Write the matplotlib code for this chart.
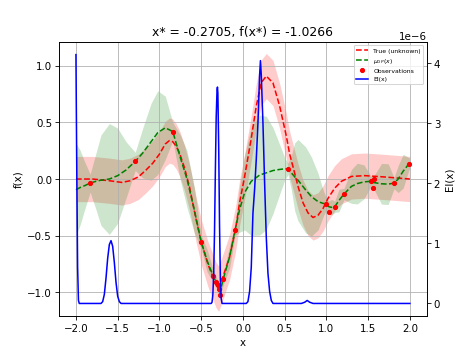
import matplotlib
matplotlib.use("Agg")
import matplotlib.pyplot as plt

# true function
true_x = [-2.0, -1.8, -1.6, -1.45, -1.35, -1.25, -1.16, -1.08, -1.0, -0.93, -0.88, -0.84,
          -0.8, -0.76, -0.7, -0.64, -0.56, -0.5, -0.42, -0.36, -0.32, -0.29, -0.24, -0.16,
          -0.09, -0.04, 0.02, 0.1, 0.16, 0.22, 0.28, 0.36, 0.44, 0.52, 0.56, 0.61, 0.66,
          0.72, 0.78, 0.84, 0.9, 0.96, 1.02, 1.1, 1.18, 1.3, 1.46, 1.7, 2.0]
true_y = [0.0, 0.0, -0.015, -0.03, -0.015, 0.02, 0.08, 0.14, 0.22, 0.31, 0.34, 0.33,
          0.29, 0.23, 0.1, -0.07, -0.36, -0.555, -0.75, -0.865, -0.94, -0.97, -0.865, -0.69,
          -0.45, -0.21, 0.02, 0.36, 0.645, 0.853, 0.91, 0.85, 0.645, 0.38, 0.22, 0.08, -0.065,
          -0.21, -0.3, -0.34, -0.32, -0.26, -0.17, -0.08, -0.02, 0.023, 0.03, 0.018, 0.0]
true_band = 0.2

# GP posterior mean and 2-sigma half width
gp_x = [-2.0, -1.95, -1.9, -1.83, -1.76, -1.7, -1.6, -1.5, -1.4, -1.29, -1.2, -1.1,
        -1.02, -0.93, -0.84, -0.75, -0.67, -0.58, -0.5, -0.43, -0.36, -0.32, -0.3, -0.275,
        -0.234, -0.16, -0.094, -0.04, 0.02, 0.1, 0.2, 0.28, 0.36, 0.44, 0.5, 0.54, 0.58,
        0.62, 0.66, 0.75, 0.82, 0.9, 0.96, 1.0, 1.03, 1.06, 1.1, 1.15, 1.21, 1.3, 1.37,
        1.45, 1.53, 1.56, 1.6, 1.66, 1.74, 1.81, 1.86, 1.92, 1.99, 2.0]
gp_mu = [-0.095, -0.075, -0.06, -0.036, -0.02, -0.01, 0.0, 0.03, 0.08, 0.156, 0.23, 0.33,
         0.41, 0.453, 0.42, 0.19, 0.0, -0.28, -0.555, -0.72, -0.85, -0.91, -0.955, -1.0,
         -0.88, -0.69, -0.45, -0.27, -0.12, -0.02, 0.035, 0.055, 0.075, 0.085, 0.09, 0.09, 0.055,
         0.02, -0.01, -0.095, -0.155, -0.2, -0.215, -0.22, -0.245, -0.25, -0.245, -0.19, -0.133,
         -0.065, -0.04, -0.025, -0.02, -0.03, -0.035, -0.042, -0.045, -0.036, 0.0, 0.07, 0.136, 0.14]
gp_h = [0.41, 0.33, 0.22, 0.08, 0.25, 0.4, 0.49, 0.42, 0.25, 0.08, 0.22, 0.34,
        0.37, 0.28, 0.08, 0.2, 0.25, 0.2, 0.06, 0.1, 0.06, 0.05, 0.05, 0.05,
        0.05, 0.1, 0.05, 0.2, 0.33, 0.48, 0.53, 0.5, 0.38, 0.22, 0.1, 0.05, 0.15,
        0.3, 0.36, 0.38, 0.35, 0.25, 0.12, 0.05, 0.05, 0.07, 0.05, 0.1, 0.05, 0.15, 0.18,
        0.15, 0.05, 0.05, 0.1, 0.18, 0.18, 0.05, 0.12, 0.15, 0.05, 0.06]

# observations
obs_x = [-1.83, -1.29, -0.84, -0.5, -0.36, -0.32, -0.3, -0.29, -0.2705, -0.234, -0.094,
         0.54, 1.0, 1.03, 1.1, 1.21, 1.53, 1.56, 1.57, 1.81, 1.99]
obs_y = [-0.036, 0.156, 0.42, -0.555, -0.855, -0.91, -0.94, -0.97, -1.0266, -0.88, -0.45,
         0.09, -0.22, -0.29, -0.25, -0.133, -0.015, -0.075, 0.0, -0.036, 0.136]

# expected improvement (units of 1e-6)
ei_x = [-2.0, -1.99, -1.98, -1.97, -1.96, -1.7, -1.68, -1.66, -1.64, -1.62, -1.6, -1.58,
        -1.56, -1.54, -1.52, -1.5, -1.48, -1.46, -0.38, -0.37, -0.36, -0.35, -0.34, -0.33,
        -0.32, -0.31, -0.305, -0.3, -0.29, -0.28, -0.27, -0.26, -0.25, 0.04, 0.06, 0.08,
        0.1, 0.12, 0.14, 0.16, 0.18, 0.2, 0.21, 0.22, 0.24, 0.26, 0.28, 0.3, 0.32, 0.34,
        0.36, 0.7, 0.74, 0.77, 0.8, 0.84, 2.0]
ei_v = [4.14, 2.2, 0.6, 0.05, 0.0, 0.0, 0.03, 0.15, 0.42, 0.75, 0.98, 1.045,
        0.95, 0.68, 0.35, 0.12, 0.03, 0.0, 0.0, 0.02, 0.15, 0.5, 1.2, 2.2,
        3.1, 3.55, 3.6, 3.5, 2.6, 1.3, 0.4, 0.08, 0.0, 0.0, 0.03, 0.2,
        0.6, 1.5, 1.9, 2.4, 3.0, 3.8, 4.04, 3.8, 3.0, 2.0, 1.1, 0.5, 0.2, 0.05,
        0.0, 0.0, 0.02, 0.05, 0.02, 0.0, 0.0]
ei_v = [v * 1e-6 for v in ei_v]

x_best, f_best = -0.2705, -1.0266

fig = plt.figure(figsize=(6.4, 4.8))
ax = fig.add_subplot(111)

lo_t = [y - true_band for y in true_y]
hi_t = [y + true_band for y in true_y]
ax.fill_between(true_x, lo_t, hi_t, color="red", alpha=0.2, linewidth=0)
lo_g = [m - h for m, h in zip(gp_mu, gp_h)]
hi_g = [m + h for m, h in zip(gp_mu, gp_h)]
ax.fill_between(gp_x, lo_g, hi_g, color="green", alpha=0.2, linewidth=0)

l1, = ax.plot(true_x, true_y, "r--", lw=1.5, label="True (unknown)")
l2, = ax.plot(gp_x, gp_mu, "g--", lw=1.5, label=r"$\mu_{GP}(x)$")
l3, = ax.plot(obs_x, obs_y, "ro", ms=4, label="Observations")
ax.set_xlabel("x")
ax.set_ylabel("f(x)")
ax.set_ylim(-1.21, 1.21)
ax.grid(True)
ax.set_title(f"x* = {x_best:.4f}, f(x*) = {f_best:.4f}")

ax2 = ax.twinx()
l4, = ax2.plot(ei_x, ei_v, "b-", lw=1.5, label="EI(x)")
ax2.set_ylabel("EI(x)")

ax2.legend([l1, l2, l3, l4], [l.get_label() for l in [l1, l2, l3, l4]],
           loc="upper right", fontsize=6)

plt.savefig("out.png", dpi=74.06)
